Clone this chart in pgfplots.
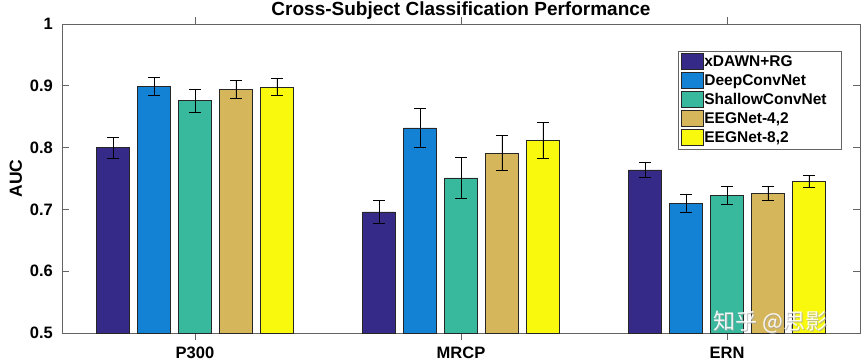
\documentclass[border=0pt]{standalone}
\usepackage{fontspec}
\setmainfont{Liberation Sans}
\newfontfamily\cjk{Noto Sans CJK SC}
\usepackage{pgfplots}
\pgfplotsset{compat=1.18}
\usepackage{pgfplotstable}

\definecolor{c1}{RGB}{53,42,135}
\definecolor{c2}{RGB}{20,130,212}
\definecolor{c3}{RGB}{56,185,158}
\definecolor{c4}{RGB}{214,182,90}
\definecolor{c5}{RGB}{249,249,14}
\definecolor{axc}{RGB}{100,100,100}

\pgfplotstableread{
x y e
1 0.800 0.017
2 0.696 0.018
3 0.764 0.0125
}\xdawn
\pgfplotstableread{
x y e
1 0.899 0.014
2 0.832 0.032
3 0.710 0.015
}\deep
\pgfplotstableread{
x y e
1 0.876 0.019
2 0.751 0.033
3 0.723 0.014
}\shallow
\pgfplotstableread{
x y e
1 0.894 0.015
2 0.791 0.0285
3 0.726 0.012
}\eegA
\pgfplotstableread{
x y e
1 0.898 0.014
2 0.812 0.029
3 0.7455 0.010
}\eegB

\begin{document}
\begin{tikzpicture}
\begin{axis}[
  scale only axis, width=798pt, height=309pt,
  at={(0,0)}, anchor=south west,
  xmin=0.5, xmax=3.5, ymin=0.5, ymax=1,
  xtick={1,2,3}, xticklabels={P300,MRCP,ERN},
  ytick={0.5,0.6,0.7,0.8,0.9,1},
  /pgf/number format/assume math mode=true,
  yticklabel style={/pgf/number format/fixed, /pgf/number format/precision=1, anchor=east, inner xsep=0pt, xshift=-9pt},
  xticklabel style={anchor=base, inner sep=0pt, yshift=-18pt},
  ticklabel style={font=\fontsize{16.5}{18}\selectfont\bfseries},
  tick align=inside, major tick length=7pt,
  axis line style={axc, line width=0.7pt}, tick style={axc, line width=0.7pt},
  every axis title shift=0pt,
  title={Cross-Subject Classification Performance},
  title style={font=\fontsize{19}{22}\selectfont\bfseries, at={(0.5,1)}, anchor=base, yshift=8pt, inner sep=0pt},
  ylabel={AUC},
  ylabel style={font=\fontsize{17.5}{20}\selectfont\bfseries, at={(axis description cs:0,0.5)}, anchor=base, yshift=40pt, inner sep=0pt},
  ybar, bar width=0.123,
  every axis plot/.append style={draw=black!85, line width=0.6pt},
  error bars/y dir=both, error bars/y explicit,
  error bars/error bar style={black, line width=0.6pt},
  error bars/error mark options={black, line width=0.6pt, mark size=6pt, rotate=90},
  legend style={at={(rel axis cs:1,1)}, anchor=north east, xshift=-18pt, yshift=-27pt,
    font=\fontsize{15.5}{18}\selectfont\bfseries, draw=axc, line width=0.7pt,
    inner xsep=2pt, inner ysep=1.5pt, row sep=0pt,
    nodes={inner xsep=1pt, inner ysep=2.2pt, text height=11.5pt, text depth=3pt}},
  legend cell align=left,
  legend image code/.code={\draw[#1, line width=0.6pt] (0pt,-7pt) rectangle (22pt,9pt);},
]
\addplot[fill=c1, bar shift=-0.308] table[x=x, y=y, y error=e]{\xdawn};
\addplot[fill=c2, bar shift=-0.154] table[x=x, y=y, y error=e]{\deep};
\addplot[fill=c3, bar shift=0] table[x=x, y=y, y error=e]{\shallow};
\addplot[fill=c4, bar shift=0.154] table[x=x, y=y, y error=e]{\eegA};
\addplot[fill=c5, bar shift=0.308] table[x=x, y=y, y error=e]{\eegB};
\legend{xDAWN+RG,DeepConvNet,{ShallowConvNet\hspace*{12pt}},{EEGNet-4,2},{EEGNet-8,2}}
\node[font=\cjk\fontsize{22}{24}\selectfont, text=gray!70, opacity=0.7, xshift=0.9pt, yshift=-0.9pt] at (rel axis cs:0.888,0.036) {知乎 @思影};
\node[font=\cjk\fontsize{22}{24}\selectfont, text=white, opacity=0.9] at (rel axis cs:0.888,0.036) {知乎 @思影};
\end{axis}
\pgfresetboundingbox
\path (-62pt,-29pt) rectangle (800pt,333pt);
\end{tikzpicture}
\end{document}
